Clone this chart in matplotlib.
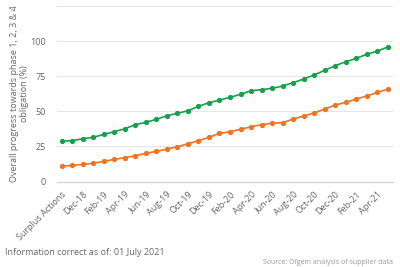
import matplotlib
matplotlib.use('Agg')
import matplotlib.pyplot as plt

matplotlib.rcParams.update({
    'font.family': ['Open Sans', 'DejaVu Sans'],
    'axes.linewidth': 0.7,
})

categories = ['Surplus Actions',
              'Nov-18', 'Dec-18', 'Jan-19', 'Feb-19', 'Mar-19', 'Apr-19',
              'May-19', 'Jun-19', 'Jul-19', 'Aug-19', 'Sep-19', 'Oct-19',
              'Nov-19', 'Dec-19', 'Jan-20', 'Feb-20', 'Mar-20', 'Apr-20',
              'May-20', 'Jun-20', 'Jul-20', 'Aug-20', 'Sep-20', 'Oct-20',
              'Nov-20', 'Dec-20', 'Jan-21', 'Feb-21', 'Mar-21', 'Apr-21',
              'May-21']
green_series = [28.8, 29.1, 30.5, 31.5, 33.6, 35.5, 37.6, 40.5, 42.2, 44.3,
                46.9, 48.6, 50.4, 53.6, 56.1, 58.0, 60.0, 62.1, 64.7, 65.4,
                66.4, 68.0, 70.4, 73.0, 75.9, 79.2, 82.5, 85.3, 87.7, 90.6,
                92.9, 95.8]
orange_series = [11.0, 11.5, 12.2, 13.0, 14.4, 15.8, 17.0, 18.4, 20.1, 21.5,
                 23.1, 24.8, 26.9, 29.1, 31.5, 34.3, 35.5, 37.2, 39.0, 40.5,
                 41.5, 41.9, 44.5, 46.7, 48.8, 51.6, 54.5, 56.4, 58.8, 60.9,
                 63.5, 65.7]
yticks = [0, 25, 50, 75, 100]

fig = plt.figure(figsize=(4, 2.67), dpi=100)
ax = fig.add_axes([0.1425, 0.320, 0.84, 0.6575])

x = list(range(len(categories)))
ax.plot(x, green_series, color='#16a04b', lw=1.2, marker='o', ms=3.8,
        mec='none', zorder=3)
ax.plot(x, orange_series, color='#f07323', lw=1.2, marker='o', ms=3.8,
        mec='none', zorder=3)

ax.set_xlim(-0.45, len(categories) - 0.5)
ax.set_ylim(0, 125)
for v in [25, 50, 75, 100, 125]:
    ax.axhline(v, color='#e6e6e6', lw=0.8, zorder=1)

ax.set_yticks(yticks)
ax.set_yticklabels([str(v) for v in yticks], fontsize=6.5, color='#666666')
ax.tick_params(axis='y', length=0, pad=8)

ax.set_xticks(x[::2])
ax.set_xticklabels(categories[::2], rotation=45, ha='right',
                   rotation_mode='anchor', fontsize=6.5, color='#666666')
ax.tick_params(axis='x', length=0, pad=6)

for side in ('top', 'right', 'left'):
    ax.spines[side].set_visible(False)
ax.spines['bottom'].set_color('#ccd6eb')
ax.spines['bottom'].set_linewidth(1.0)

ax.set_ylabel('Overall progress towards phase 1, 2, 3 & 4\nobligation (%)',
              fontsize=6.5, color='#666666', labelpad=1, linespacing=1.1)

fig.text(0.0125, 0.055, 'Information correct as of: 01 July 2021',
         fontsize=6.5, color='#666666', va='center')
fig.text(0.9825, 0.015, 'Source: Ofgem analysis of supplier data',
         fontsize=5, color='#999999', ha='right', va='center')

fig.savefig('out.png', dpi=100)
